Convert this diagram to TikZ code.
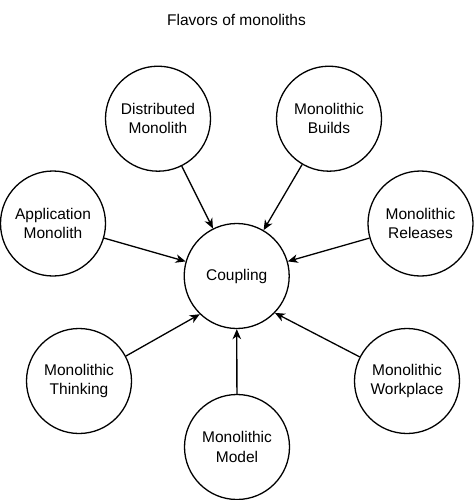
\documentclass[tikz,border=0pt]{standalone}
\usepackage{fontspec}
\setmainfont{Liberation Sans}
\usetikzlibrary{arrows.meta}
\begin{document}
\begin{tikzpicture}[x=1pt,y=-1pt,
  every node/.style={font=\fontsize{15.5}{19.3}\selectfont, align=center},
  bubble/.style={circle, draw=black, line width=1.3pt, minimum size=105pt, inner sep=0pt, fill=white},
  link/.style={draw=black, line width=1.3pt, -{Stealth[length=10pt,width=8.5pt,inset=3pt]}}]
\useasboundingbox (0,0) rectangle (474,500);
\node (title) at (236.5,20) {Flavors of monoliths};
\node[bubble] (coupling) at (236.7,276) {Coupling};
\node[bubble] (distributed) at (158,118.7) {Distributed\\Monolith};
\node[bubble] (builds) at (329,118.7) {Monolithic\\Builds};
\node[bubble] (application) at (53,223.5) {Application\\Monolith};
\node[bubble] (releases) at (420.5,223.5) {Monolithic\\Releases};
\node[bubble] (thinking) at (79,381) {Monolithic\\Thinking};
\node[bubble] (workplace) at (407,381) {Monolithic\\Workplace};
\node[bubble] (model) at (237,447) {Monolithic\\Model};
\draw[link] (distributed) -- (coupling);
\draw[link] (builds) -- (coupling);
\draw[link] (application) -- (coupling);
\draw[link] (releases) -- (coupling);
\draw[link] (thinking.28.7) -- (coupling.226.2);
\draw[link] (workplace.153.2) -- (coupling.-44.3);
\draw[link] (model) -- (coupling);
\end{tikzpicture}
\end{document}
